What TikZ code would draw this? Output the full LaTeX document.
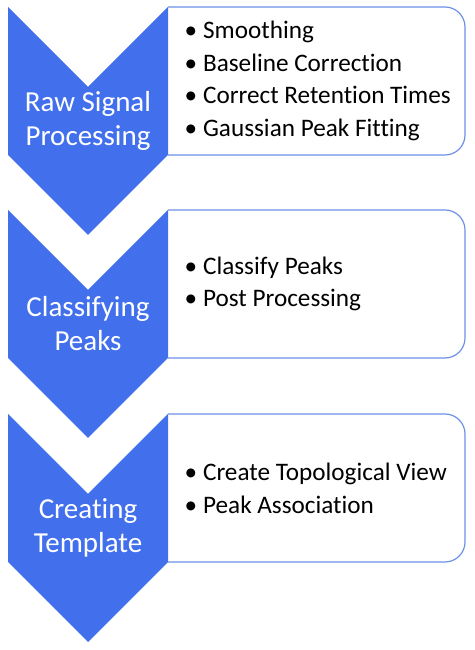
\documentclass[tikz,border=0pt]{standalone}
\usepackage{fontspec}
\setmainfont[Ligatures=NoCommon]{Carlito}
\definecolor{chevblue}{RGB}{66,112,236}
\definecolor{panelblue}{RGB}{108,144,232}

\begin{document}
\begin{tikzpicture}[x=1pt,y=1pt,
    chev/.style = {fill=chevblue},
    panel/.style = {draw=panelblue, line width=1.2pt, rounded corners=20pt},
    stage/.style = {text=white, font=\fontsize{29}{34}\selectfont, align=center},
    items/.style = {anchor=west, font=\fontsize{25.2}{32.7}\selectfont, align=left}]
    \useasboundingbox (0,0) rectangle (474,650);
    % raw signal processing
    \draw[panel] (168,643) -- (465,643) -- (465,495) -- (168,495);
    \fill[chev] (8,643) -- (88,563) -- (168,643) -- (168,495) -- (88,415) -- (8,495) -- cycle;
    \node[stage] (raw) at (88,529) {Raw Signal\\Processing};
    \node[items] (rawlist) at (181,569) {\textbullet\hspace{6pt}Smoothing\\\textbullet\hspace{6pt}Baseline Correction\\\textbullet\hspace{6pt}Correct Retention Times\\\textbullet\hspace{6pt}Gaussian Peak Fitting};
    % classifying peaks
    \draw[panel] (168,440) -- (465,440) -- (465,292) -- (168,292);
    \fill[chev] (8,440) -- (88,360) -- (168,440) -- (168,292) -- (88,212) -- (8,292) -- cycle;
    \node[stage] (classify) at (88,326) {Classifying\\Peaks};
    \node[items] (classlist) at (181,366) {\textbullet\hspace{6pt}Classify Peaks\\\textbullet\hspace{6pt}Post Processing};
    % creating template
    \draw[panel] (168,236) -- (465,236) -- (465,88) -- (168,88);
    \fill[chev] (8,236) -- (88,156) -- (168,236) -- (168,88) -- (88,8) -- (8,88) -- cycle;
    \node[stage] (template) at (88,122) {Creating\\Template};
    \node[items] (templist) at (181,162) {\textbullet\hspace{6pt}Create Topological View\\\textbullet\hspace{6pt}Peak Association};
\end{tikzpicture}
\end{document}
